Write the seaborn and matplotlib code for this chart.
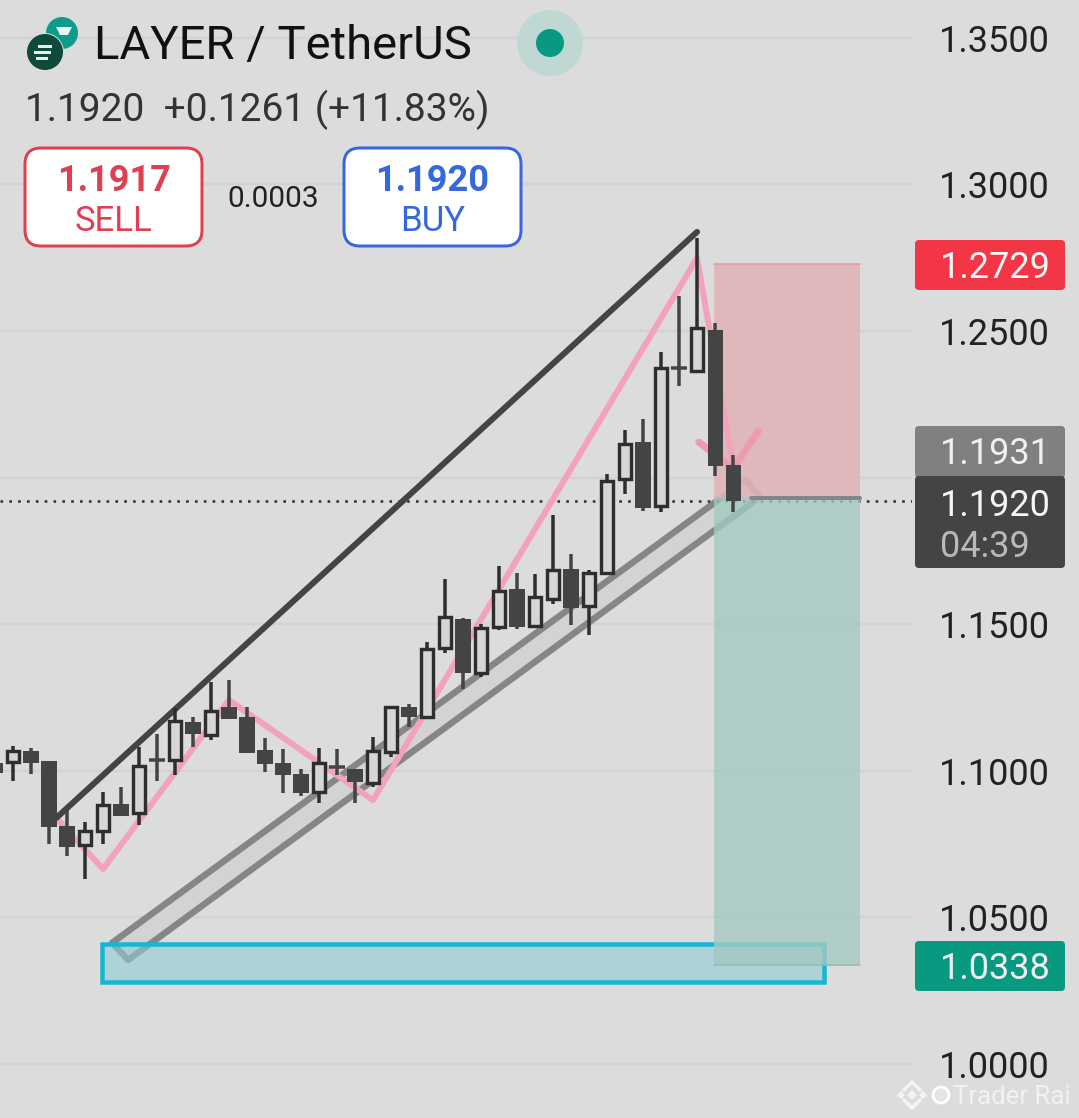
import numpy as np
import pandas as pd
import matplotlib
matplotlib.use("Agg")
import matplotlib.pyplot as plt
from matplotlib.patches import FancyBboxPatch, Circle, Polygon, Rectangle
import seaborn as sns

# Candles, first one is cut off by the left edge
bar_index = list(range(-1, 41))
opens = [1.1027, 1.1030, 1.1068, 1.1033, 1.0812, 1.0747, 1.0795, 1.0887, 1.0856, 1.1037, 1.1037,
         1.1166, 1.1122, 1.1218, 1.1184, 1.1071, 1.1027, 1.0989, 1.0928, 1.1013, 1.1006, 1.0958,
         1.1064, 1.1218, 1.1184, 1.1419, 1.1518, 1.1334, 1.1490, 1.1620, 1.1494, 1.1586, 1.1688,
         1.1562, 1.1675, 1.1995, 1.2121, 1.1903, 1.2374, 1.2364, 1.2503, 1.2043]
highs = [1.1047, 1.1085, 1.1078, 1.1033, 1.0873, 1.0825, 1.0928, 1.0945, 1.1081, 1.1125, 1.1214,
         1.1184, 1.1303, 1.1310, 1.1218, 1.1112, 1.1074, 1.1006, 1.1078, 1.1074, 1.1006, 1.1115,
         1.1218, 1.1228, 1.1439, 1.1654, 1.1521, 1.1501, 1.1698, 1.1675, 1.1671, 1.1872, 1.1739,
         1.1685, 1.2012, 1.2162, 1.2200, 1.2428, 1.2619, 1.2817, 1.2527, 1.2077]
lows = [1.0969, 1.0965, 1.0989, 1.0750, 1.0709, 1.0631, 1.0750, 1.0846, 1.0815, 1.0965, 1.0986,
        1.1081, 1.1105, 1.1177, 1.1061, 1.0996, 1.0924, 1.0914, 1.0890, 1.0986, 1.0890, 1.0945,
        1.1047, 1.1149, 1.1184, 1.1402, 1.1279, 1.1320, 1.1480, 1.1484, 1.1490, 1.1569, 1.1497,
        1.1463, 1.1668, 1.1944, 1.1886, 1.1883, 1.2312, 1.2357, 1.2005, 1.1883]
closes = [1.0992, 1.1068, 1.1027, 1.0808, 1.0740, 1.0795, 1.0883, 1.0846, 1.1016, 1.1037, 1.1170,
          1.1125, 1.1204, 1.1177, 1.1061, 1.1023, 1.0986, 1.0924, 1.1027, 1.1013, 1.0962, 1.1068,
          1.1218, 1.1184, 1.1415, 1.1525, 1.1334, 1.1487, 1.1613, 1.1490, 1.1593, 1.1685, 1.1555,
          1.1675, 1.1988, 1.2115, 1.1896, 1.2374, 1.2374, 1.2510, 1.2040, 1.1920]

# Hand drawn lines on the chart (bar index, price)
black_x = [2.4, 38.0]
black_y = [1.0839, 1.2838]
pink_x = [2.5, 5.0, 12.0, 20.0, 38.0, 40.0]
pink_y = [1.0832, 1.0665, 1.1241, 1.0900, 1.2749, 1.2043]
arrow_x = [38.1, 40.0, 41.4]
arrow_y = [1.2121, 1.2030, 1.2159]
channel_x = [5.5, 6.4, 41.5, 40.7]
channel_y = [1.0413, 1.0355, 1.1934, 1.1992]

# Position tool and support zone
entry_price = 1.1931
stop_price = 1.2729
target_price = 1.0338
last_price = 1.1920
position_x = [38.94, 47.06]
zone_x = [4.94, 45.06]
zone_y = [1.0280, 1.0409]

# the 1.2000 label sits under the price boxes in the app
price_ticks = [1.00, 1.05, 1.10, 1.15, 1.20, 1.25, 1.30, 1.35]
price_labels = ["1.0000", "1.0500", "1.1000", "1.1500", "", "1.2500", "1.3000", "1.3500"]

BG = "#dcdcdc"
DARK = "#444444"
EDGE = "#2e2e2e"
PINK = "#f2a3ba"
PX = 0.72  # 1 px in points at dpi 100

sns.set_theme(style="darkgrid", rc={"figure.facecolor": BG, "axes.facecolor": BG,
                                    "grid.color": "#d3d3d3", "grid.linewidth": 2.5 * PX})
plt.rcParams["font.family"] = ["Roboto", "DejaVu Sans"]

fig = plt.figure(figsize=(10.79, 11.18), dpi=100)
ax = fig.add_axes([0, 0, 912 / 1079, 1])
ax.set_xlim(-0.722, 49.94)
ax.set_ylim(0.98158, 1.36290)
ax.set_xticks([])
ax.set_yticks(price_ticks)
ax.set_yticklabels(price_labels)
ax.yaxis.tick_right()
ax.tick_params(axis="y", length=0, pad=19.5, labelsize=26, labelcolor="#222222")
ax.grid(axis="x", visible=False)
ax.set_axisbelow(True)
for s in ax.spines.values():
    s.set_visible(False)

# channel first, the position boxes tint it
ax.add_patch(Polygon(list(zip(channel_x, channel_y)), closed=True, facecolor="#d3d3d3",
                     edgecolor="#868686", lw=6.5 * PX, joinstyle="round", zorder=3))

ax.add_patch(Rectangle((position_x[0], entry_price), position_x[1] - position_x[0], stop_price - entry_price,
                       facecolor="#e0b4b9", edgecolor="none", alpha=0.9, zorder=5))
ax.add_patch(Rectangle((position_x[0], target_price), position_x[1] - position_x[0], entry_price - target_price,
                       facecolor="#a4c9c2", edgecolor="none", alpha=0.8, zorder=5))
ax.plot(position_x, [stop_price, stop_price], color="#e39aa4", lw=1.5 * PX, zorder=5)
ax.plot(position_x, [target_price, target_price], color="#8fbcb3", lw=1.5 * PX, zorder=5)
ax.plot([41.0, position_x[1]], [entry_price, entry_price], color="#868686", lw=4 * PX, zorder=5)

# zone goes over the channel end, fill is see-through
ax.add_patch(Rectangle((zone_x[0], zone_y[0]), zone_x[1] - zone_x[0], zone_y[1] - zone_y[0],
                       facecolor=(0.56, 0.80, 0.84, 0.6), edgecolor="#17b7d0", lw=4.5 * PX, zorder=4))

ax.axhline(last_price, color="#333333", lw=2.6 * PX, ls=(0, (1, 2.4)), zorder=4)

sns.lineplot(x=pink_x, y=pink_y, ax=ax, color=PINK, lw=6 * PX, sort=False, estimator=None, zorder=5)
sns.lineplot(x=arrow_x, y=arrow_y, ax=ax, color="#f099b2", lw=7 * PX, sort=False, estimator=None, zorder=5,
             solid_capstyle="round")
sns.lineplot(x=black_x, y=black_y, ax=ax, color=DARK, lw=6 * PX, sort=False, estimator=None, zorder=5,
             solid_capstyle="round")
ax.set_xlabel("")
ax.set_ylabel("")

candles = pd.DataFrame({"i": bar_index, "o": opens, "h": highs, "l": lows, "c": closes})
doji = candles[candles.o == candles.c]
up = candles[candles.c > candles.o]
down = candles[candles.c < candles.o]

ax.vlines(up.i, up.l, up.h, color=EDGE, lw=3.5 * PX, zorder=6)
ax.vlines(down.i, down.l, down.h, color=DARK, lw=3.5 * PX, zorder=6)
ax.vlines(doji.i, doji.l, doji.h, color=DARK, lw=3.5 * PX, zorder=6)
ax.hlines(doji.o, doji.i - 0.42, doji.i + 0.42, color=DARK, lw=3.5 * PX, zorder=6)
ax.bar(up.i, up.c - up.o, bottom=up.o, width=0.65, facecolor="#d6d6d6", edgecolor=EDGE, lw=3.4 * PX, zorder=7)
ax.bar(down.i, down.c - down.o, bottom=down.o, width=0.84, color=DARK, lw=0, zorder=7)

# overlay in screen pixels for the app UI
ui = fig.add_axes([0, 0, 1, 1], facecolor="none")
ui.set_xlim(0, 1079)
ui.set_ylim(1118, 0)
ui.axis("off")


def price_box(y0, y1, color, x0=915, x1=1065):
    ui.add_patch(FancyBboxPatch((x0, y0), x1 - x0, y1 - y0, boxstyle="round,pad=0,rounding_size=4",
                                facecolor=color, edgecolor="none"))


price_box(240, 290, "#f23645")
price_box(426, 478, "#808080")
price_box(476, 568, "#444444")
price_box(941, 991, "#089981")
for txt, y, col in [("1.2729", 264, "#f6f6f6"), ("1.1931", 450, "#f0f0f0"), ("1.1920", 502, "#f6f6f6"),
                    ("04:39", 543, "#b9b9b9"), ("1.0338", 965, "#f0f0f0")]:
    ui.text(940, y, txt, fontsize=26, color=col, va="center_baseline", ha="left")

# header
ui.add_patch(Circle((62, 33), 16, facecolor="#0d9c8a", edgecolor="none"))
ui.add_patch(Polygon([(56, 27), (72, 27), (68, 35), (60, 35)], facecolor="#e8f4f2", edgecolor="none"))
ui.add_patch(Circle((45, 52), 19, facecolor=BG, edgecolor="none"))
ui.add_patch(Circle((45, 52), 18, facecolor="#0f4a3c", edgecolor="none"))
for bx, by, bw in [(38, 45, 14), (34, 51, 17), (36, 57, 12)]:
    ui.add_patch(Rectangle((bx, by), bw, 3, facecolor="#e6efec", edgecolor="none"))
ui.text(94, 42, "LAYER / TetherUS", fontsize=34, color="#111111", va="center_baseline", ha="left")
ui.add_patch(Circle((550, 43), 33, facecolor="#bfd8d4", edgecolor="none"))
ui.add_patch(Circle((550, 43), 14, facecolor="#089981", edgecolor="none"))
ui.text(25, 105, "1.1920  +0.1261 (+11.83%)", fontsize=28, color="#333333", va="center_baseline", ha="left")

for x0, x1, col, price, side in [(25, 202, "#dd4052", "1.1917", "SELL"), (344, 521, "#3568dc", "1.1920", "BUY")]:
    ui.add_patch(FancyBboxPatch((x0, 148), x1 - x0, 98, boxstyle="round,pad=0,rounding_size=16",
                                facecolor="white", edgecolor=col, lw=3 * PX))
    ui.text((x0 + x1) / 2, 177, price, fontsize=26, fontweight="bold", color=col, va="center_baseline", ha="center")
    ui.text((x0 + x1) / 2, 218, side, fontsize=25, color=col, va="center_baseline", ha="center")
ui.text(273, 196, "0.0003", fontsize=21.5, color="#222222", va="center_baseline", ha="center")

# watermark, exchange mark made of small diamonds
for dx, dy, r in [(912, 1095, 5), (901, 1095, 4), (923, 1095, 4)]:
    ui.add_patch(Polygon([(dx - r, dy), (dx, dy - r), (dx + r, dy), (dx, dy + r)],
                         facecolor="#f4f4f4", edgecolor="none"))
ui.plot([904, 912, 920], [1090, 1082, 1090], color="#f4f4f4", lw=3.5 * PX)
ui.plot([904, 912, 920], [1100, 1108, 1100], color="#f4f4f4", lw=3.5 * PX)
ui.add_patch(Circle((941, 1095), 8, facecolor="#e4e4e4", edgecolor="#ffffff", lw=2))
ui.text(953, 1095, "Trader Rai", fontsize=18.5, color="#f2f2f2", va="center_baseline", ha="left")

fig.savefig("out.png", dpi=100, facecolor=BG)
